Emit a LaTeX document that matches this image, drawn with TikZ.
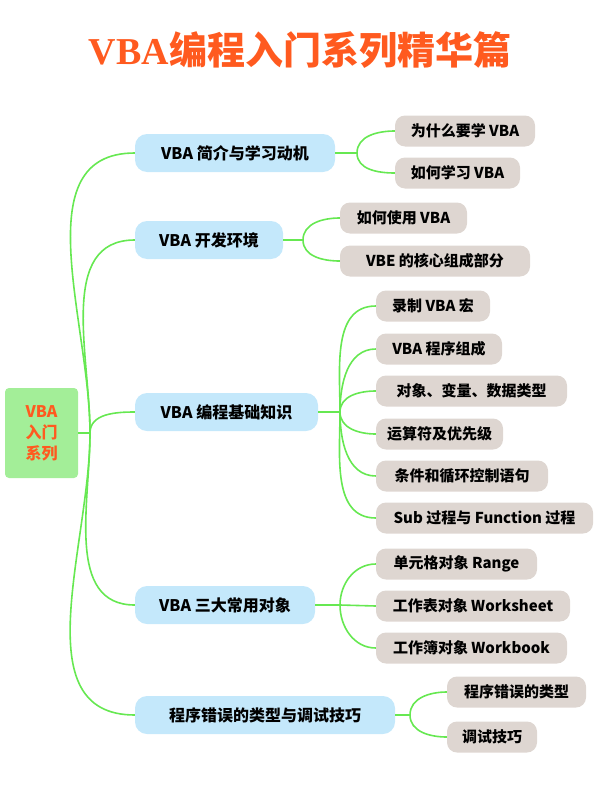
\documentclass[tikz,border=0pt]{standalone}
\usepackage{fontspec}
\setmainfont{Noto Sans CJK SC}
\newfontfamily\titlelat{Liberation Serif}
\definecolor{ttl}{HTML}{FF5A1F}
\definecolor{rootc}{HTML}{A3EE98}
\definecolor{brc}{HTML}{C4E8FB}
\definecolor{lfc}{HTML}{DED6D1}
\definecolor{lnc}{HTML}{66E851}
\begin{document}
\begin{tikzpicture}[x=1pt,y=-1pt,
  br/.style={fill=brc,rounded corners=12pt,minimum height=38pt,inner sep=0pt,font=\fontsize{16}{19}\selectfont\bfseries},
  lf/.style={fill=lfc,rounded corners=10pt,minimum height=31pt,inner sep=0pt,font=\fontsize{15}{18}\selectfont\bfseries},
  ln/.style={draw=lnc,line width=1.6pt}]
\useasboundingbox (0,0) rectangle (600,800);
\node[font=\fontsize{38}{44}\selectfont\bfseries,text=ttl] (title) at (300,50) {{\titlelat\bfseries VBA}编程入门系列精华篇};
\node[fill=rootc,rounded corners=4pt,minimum width=73pt,minimum height=90pt,inner sep=0pt,text=ttl,font=\fontsize{16}{21}\selectfont\bfseries,align=center] (root) at (41.5,433) {VBA\\入门\\系列};
\coordinate (rj) at (90,433);
\draw[ln] (root.east) -- (rj);
% branches
\node[br,minimum width=200pt] (b1) at (235,153) {VBA 简介与学习动机};
\node[br,minimum width=148pt] (b2) at (209,240) {VBA 开发环境};
\node[br,minimum width=183pt] (b3) at (226.5,412) {VBA 编程基础知识};
\node[br,minimum width=180pt] (b4) at (225,605) {VBA 三大常用对象};
\node[br,minimum width=260pt] (b5) at (265,715) {程序错误的类型与调试技巧};
\foreach \b in {b1,b2,b3} \draw[ln] (rj) to[out=90,in=180] (\b.west);
\foreach \b in {b4,b5} \draw[ln] (rj) to[out=-90,in=180] (\b.west);
% leaves
\node[lf,minimum width=140pt] (l11) at (465,131) {为什么要学 VBA};
\node[lf,minimum width=125pt] (l12) at (457.5,173) {如何学习 VBA};
\node[lf,minimum width=127pt] (l21) at (403.5,218) {如何使用 VBA};
\node[lf,minimum width=190pt] (l22) at (435,261) {VBE 的核心组成部分};
\node[lf,minimum width=114pt] (l31) at (433,306) {录制 VBA 宏};
\node[lf,minimum width=126pt] (l32) at (439,349) {VBA 程序组成};
\node[lf,minimum width=191pt] (l33) at (471.5,391) {对象、变量、数据类型};
\node[lf,minimum width=127pt] (l34) at (439.5,434) {运算符及优先级};
\node[lf,minimum width=172pt] (l35) at (462,476) {条件和循环控制语句};
\node[lf,minimum width=217pt] (l36) at (484.5,518) {Sub 过程与 Function 过程};
\node[lf,minimum width=161pt] (l41) at (456.5,564) {单元格对象 Range};
\node[lf,minimum width=194pt] (l42) at (473,606) {工作表对象 Worksheet};
\node[lf,minimum width=191pt] (l43) at (471.5,648) {工作簿对象 Workbook};
\node[lf,minimum width=139pt] (l51) at (516.5,692) {程序错误的类型};
\node[lf,minimum width=90pt] (l52) at (492,737) {调试技巧};
% joints
\coordinate (j1) at (357,153); \draw[ln] (b1.east) -- (j1);
\coordinate (j2) at (303,240); \draw[ln] (b2.east) -- (j2);
\coordinate (j3) at (340,412); \draw[ln] (b3.east) -- (j3);
\coordinate (j4) at (340,605); \draw[ln] (b4.east) -- (j4);
\coordinate (j5) at (410,715); \draw[ln] (b5.east) -- (j5);
\draw[ln] (j1) to[out=90,in=180] (l11.west);
\draw[ln] (j1) to[out=-90,in=180] (l12.west);
\draw[ln] (j2) to[out=90,in=180] (l21.west);
\draw[ln] (j2) to[out=-90,in=180] (l22.west);
\foreach \l in {l31,l32,l33} \draw[ln] (j3) to[out=90,in=180] (\l.west);
\foreach \l in {l34,l35,l36} \draw[ln] (j3) to[out=-90,in=180] (\l.west);
\draw[ln] (j4) to[out=90,in=180] (l41.west);
\draw[ln] (j4) -- (l42.west);
\draw[ln] (j4) to[out=-90,in=180] (l43.west);
\draw[ln] (j5) to[out=90,in=180] (l51.west);
\draw[ln] (j5) to[out=-90,in=180] (l52.west);
\end{tikzpicture}
\end{document}
